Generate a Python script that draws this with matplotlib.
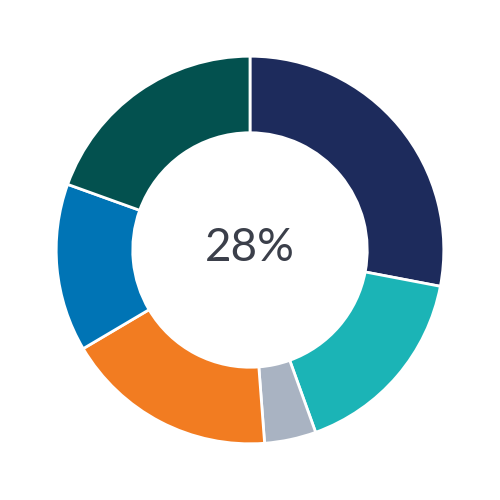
import matplotlib
matplotlib.use("Agg")
import matplotlib.pyplot as plt

labels = ["A", "B", "C", "D", "E", "F"]
values = [28, 16.5, 4.3, 17.7, 14, 19.5]
colors = ["#1d2b5c", "#1bb4b6", "#a9b3c2", "#f27c21", "#0074b5", "#03514f"]
center_text = "28%"

fig = plt.figure(figsize=(5, 5), dpi=100)
ax = fig.add_axes([0, 0, 1, 1])
ax.pie(values, colors=colors, startangle=90, counterclock=False,
       radius=1.0, wedgeprops=dict(width=0.395, edgecolor="white", linewidth=2))
ax.text(0, 0.01, center_text, ha="center", va="center", fontsize=33,
        family="Lato", color="#3b3f4a")
ax.set_xlim(-1.29, 1.29)
ax.set_ylim(-1.29, 1.29)
ax.set_aspect("equal")
ax.axis("off")
fig.savefig("out.png", dpi=100, facecolor="white")
